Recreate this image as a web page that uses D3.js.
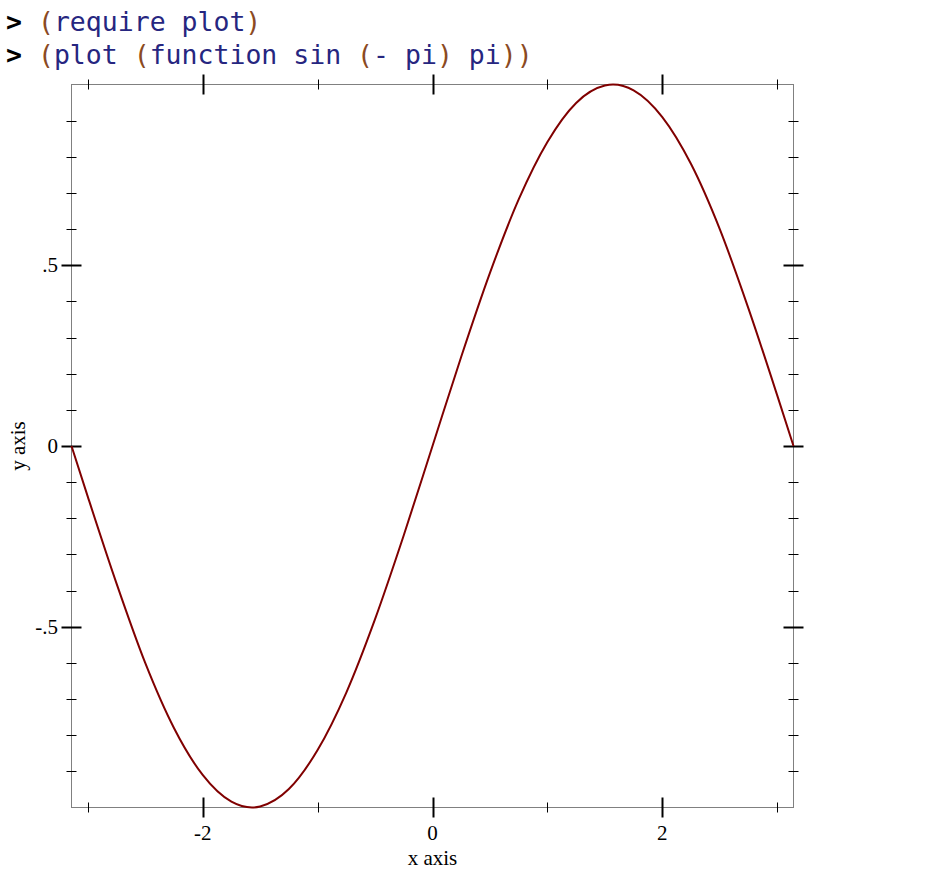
<!DOCTYPE html>
<meta charset="utf-8">

<style>
body{
	background-color: #fff;
	margin: 0px;
}
.code{
	font-family: "DejaVu Sans Mono", monospace;
	font-size: 26.5px;
}
.lbl{
	font-family: "Liberation Serif", "Times New Roman", serif;
	font-size: 21px;
	fill: #000;
}
</style>

<body></body>

<script src="https://cdn.jsdelivr.net/npm/d3@7"></script>

<script>

// values
var xs = [-3.1416, -3, -2.75, -2.5, -2.25, -2, -1.75, -1.5708, -1.5, -1.25, -1, -0.75, -0.5, -0.25, 0,
          0.25, 0.5, 0.75, 1, 1.25, 1.5, 1.5708, 1.75, 2, 2.25, 2.5, 2.75, 3, 3.1416]
var ys = [0, -0.14, -0.38, -0.6, -0.78, -0.91, -0.984, -1, -0.997, -0.949, -0.841, -0.682, -0.479, -0.247, 0,
          0.247, 0.479, 0.682, 0.841, 0.949, 0.997, 1, 0.984, 0.91, 0.78, 0.6, 0.38, 0.14, 0]

var xMajor = [-2, 0, 2],
		xMinor = [-3, -1, 1, 3],
		yMajor = [-0.5, 0, 0.5],
		yMinor = [-0.9, -0.8, -0.7, -0.6, -0.4, -0.3, -0.2, -0.1, 0.1, 0.2, 0.3, 0.4, 0.6, 0.7, 0.8, 0.9],
		yLabels = {'-0.5': '-.5', '0': '0', '0.5': '.5'}

var codeLines = [
	[['>', '#000', 'bold'], [' ', '#000'], ['(', '#8b4a22'], ['require plot', '#262680'], [')', '#8b4a22']],
	[['>', '#000', 'bold'], [' ', '#000'], ['(', '#8b4a22'], ['plot ', '#262680'], ['(', '#8b4a22'],
	 ['function sin ', '#262680'], ['(', '#8b4a22'], ['- pi', '#262680'], [')', '#8b4a22'],
	 [' pi', '#262680'], ['))', '#8b4a22']]
]

var width = 926, height = 886,
		pLeft = 71.5, pRight = 793.5, pTop = 84.5, pBottom = 807.5

var svg = d3.select('body')
	.append('svg')
		.attr('width', width)
		.attr('height', height)

var x = d3.scaleLinear().domain([-Math.PI, Math.PI]).range([pLeft, pRight])
var y = d3.scaleLinear().domain([-1, 1]).range([pBottom, pTop])

// code prompt
var code = svg.append('g').attr('class', 'code')
codeLines.forEach(function(parts, i){
	var t = code.append('text')
		.attr('x', 6)
		.attr('y', 31 + i * 33)
		.attr('xml:space', 'preserve')
	parts.forEach(function(p){
		t.append('tspan')
			.attr('fill', p[1])
			.attr('font-weight', p[2] || 'normal')
			.text(p[0])
	})
})

// frame
svg.append('rect')
	.attr('x', pLeft).attr('y', pTop)
	.attr('width', pRight - pLeft).attr('height', pBottom - pTop)
	.attr('fill', 'none')
	.attr('stroke', '#808080')
	.attr('stroke-width', 1)

// ticks on all four sides
var ticks = svg.append('g').attr('stroke', '#000')

function xTicks(vals, len, w){
	[pTop, pBottom].forEach(function(yy){
		ticks.selectAll(null).data(vals).enter().append('line')
			.attr('x1', function(d){ return Math.round(x(d)) + 0.5 })
			.attr('x2', function(d){ return Math.round(x(d)) + 0.5 })
			.attr('y1', yy - len).attr('y2', yy + len)
			.attr('stroke-width', w)
	})
}
function yTicks(vals, len, w){
	[pLeft, pRight].forEach(function(xx){
		ticks.selectAll(null).data(vals).enter().append('line')
			.attr('y1', function(d){ return Math.round(y(d)) + 0.5 })
			.attr('y2', function(d){ return Math.round(y(d)) + 0.5 })
			.attr('x1', xx - len).attr('x2', xx + len)
			.attr('stroke-width', w)
	})
}
xTicks(xMinor, 5, 1)
xTicks(xMajor, 10, 2)
yTicks(yMinor, 5, 1)
yTicks(yMajor, 10, 2)

// tick labels
svg.selectAll('.xl').data(xMajor).enter().append('text')
	.attr('class', 'lbl')
	.attr('x', function(d){ return x(d) })
	.attr('y', 840)
	.attr('text-anchor', 'middle')
	.text(function(d){ return d })

svg.selectAll('.yl').data(yMajor).enter().append('text')
	.attr('class', 'lbl')
	.attr('x', 58)
	.attr('y', function(d){ return y(d) + 7 })
	.attr('text-anchor', 'end')
	.text(function(d){ return yLabels[String(d)] })

// axis titles
svg.append('text').attr('class', 'lbl')
	.attr('x', (pLeft + pRight) / 2).attr('y', 865)
	.attr('text-anchor', 'middle')
	.text('x axis')

svg.append('text').attr('class', 'lbl')
	.attr('transform', 'translate(25,' + y(0) + ') rotate(-90)')
	.attr('text-anchor', 'middle')
	.text('y axis')

// the curve
var line = d3.line()
	.x(function(d, i){ return x(xs[i]) })
	.y(function(d){ return y(d) })
	.curve(d3.curveMonotoneX)

svg.append('path')
	.datum(ys)
	.attr('d', line)
	.attr('fill', 'none')
	.attr('stroke', '#800000')
	.attr('stroke-width', 2)

</script>
